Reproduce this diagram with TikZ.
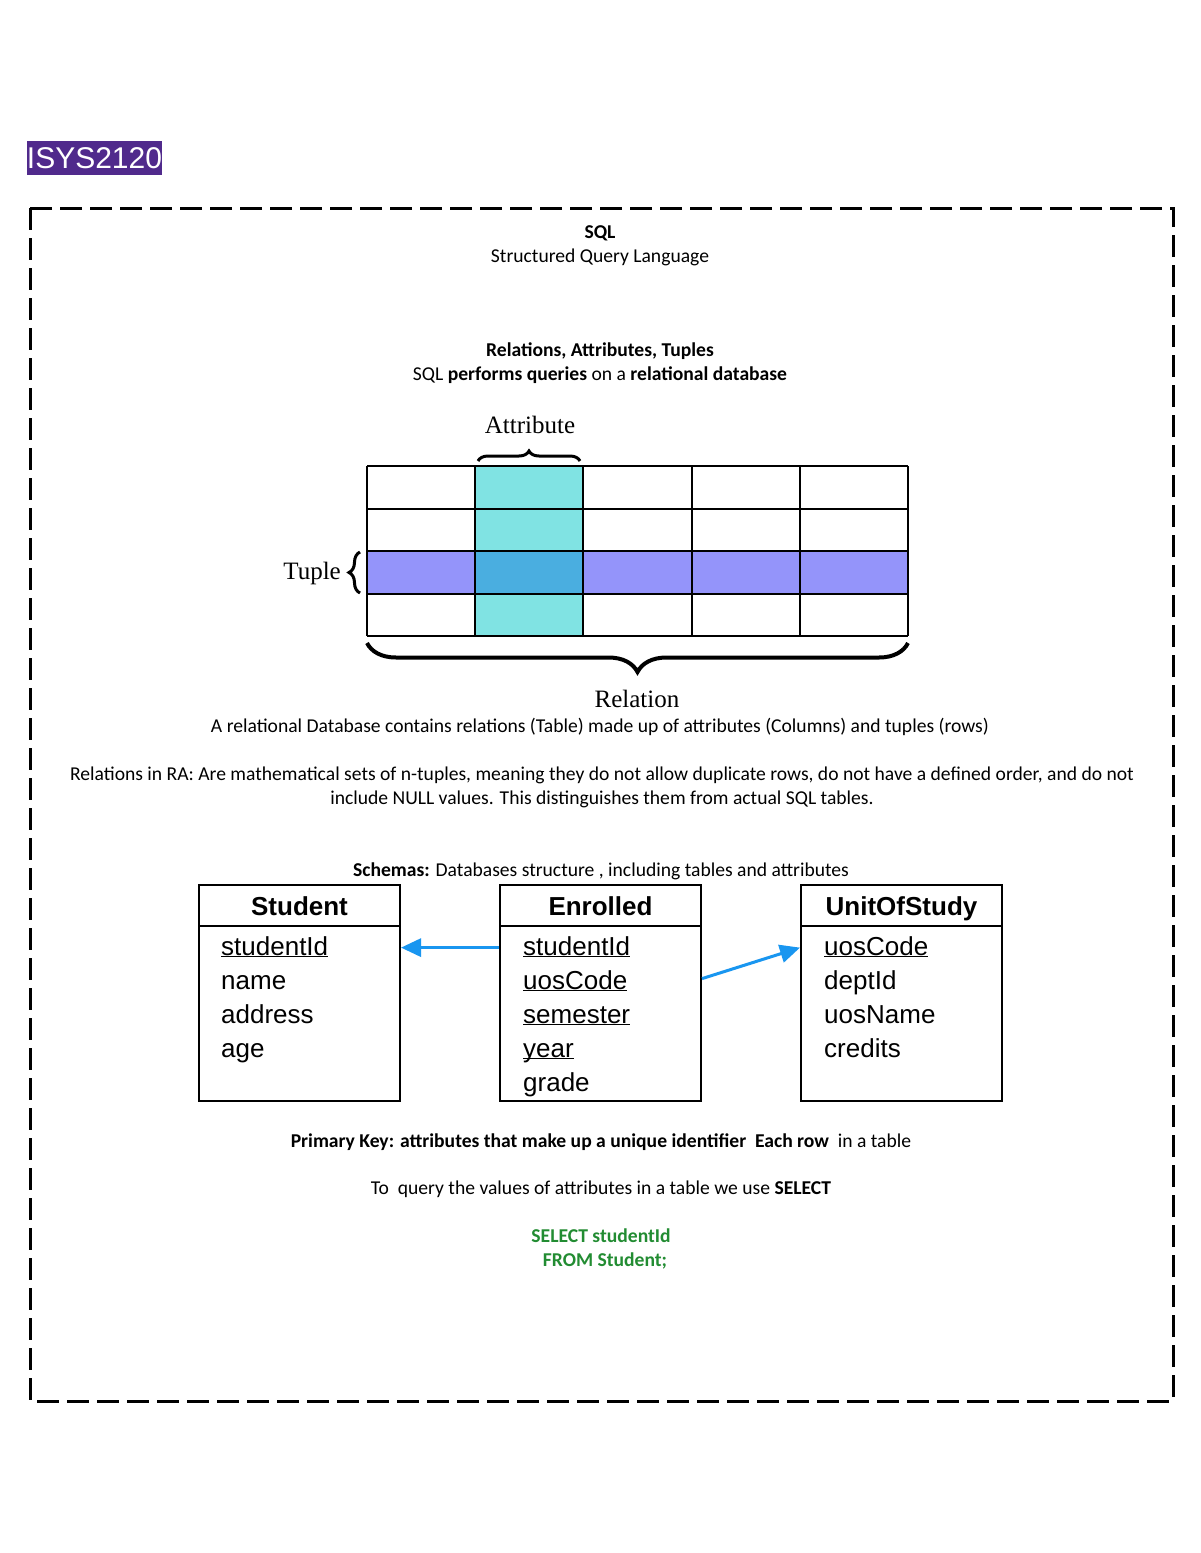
\documentclass[tikz,border=0pt]{standalone}
\usepackage{fontspec}
\setmainfont{Carlito}
\newfontfamily\arialfont{Liberation Sans}
\newfontfamily\timesfont{Liberation Serif}
\usetikzlibrary{arrows.meta,positioning,decorations.pathreplacing}
\definecolor{badgepurple}{RGB}{80,42,140}
\definecolor{attrcyan}{RGB}{128,227,227}
\definecolor{tuplelilac}{RGB}{148,148,250}
\definecolor{crossblue}{RGB}{74,174,224}
\definecolor{fkblue}{RGB}{25,150,240}
\definecolor{codegreen}{RGB}{34,140,50}
\newcommand{\keyattr}[1]{\underline{\smash{#1}}}

\begin{document}
\begin{tikzpicture}[x=1pt,y=-1pt]

\tikzset{txt/.style={anchor=base,inner sep=0pt,font=\fontsize{19.6}{24}\selectfont},
  serif/.style={inner sep=0pt,font=\timesfont\fontsize{25}{25}\selectfont},
  bracepen/.style={decorate,line width=2.5pt},
  gridline/.style={line width=2pt},
  tablebox/.style={draw,line width=2pt,minimum width=201pt,minimum height=216pt,inner sep=0pt},
  headbox/.style={draw,line width=2pt,minimum width=201pt,minimum height=41pt,inner sep=0pt,
    text height=19pt,text depth=0pt,font=\arialfont\bfseries\fontsize{26}{26}\selectfont},
  attr/.style={anchor=base west,inner sep=0pt,font=\arialfont\fontsize{26}{26}\selectfont},
  fkarrow/.style={draw=fkblue,line width=3pt,-{Triangle[length=20pt,width=18pt]}},
  badge/.style={fill=badgepurple,text=white,inner sep=0pt,minimum width=133pt,minimum height=34pt,
    font=\arialfont\fontsize{30}{30}\selectfont}}

\path[fill=white,use as bounding box] (0,0) rectangle (1200,1553);

\node[badge] (course) at (94.5,158) {ISYS2120};
\draw[line width=3pt,dash pattern=on 22pt off 8pt] (30,208) rectangle (1173,1401);

\node[txt] (sql) at (600,238) {\textbf{SQL}};
\node[txt] (sqlfull) at (600,262) {Structured Query Language};
\node[txt] (raHead) at (600,356) {\textbf{Relations, Attributes, Tuples}};
\node[txt] (raSub) at (600,380) {SQL \textbf{performs queries} on a \textbf{relational database}};

% relation grid
\fill[attrcyan] (475,466) rectangle (583,636);
\fill[tuplelilac] (367,551) rectangle (908,593);
\fill[crossblue] (475,551) rectangle (583,593);
\foreach \c in {0,...,5}
  \draw[gridline] (367+108.2*\c,466) -- (367+108.2*\c,636);
\foreach \r in {0,...,4}
  \draw[gridline] (367,466+42.5*\r) -- (908,466+42.5*\r);

\node[serif] (attrlbl) at (530,425) {Attribute};
\draw[bracepen,line width=3pt,decoration={brace,amplitude=10pt}] (478,461) -- (580,461);
\node[serif,anchor=east] (tuplelbl) at (341,573) {Tuple};
\draw[bracepen,line width=3pt,decoration={brace,amplitude=11pt}] (360,593) -- (360,552);
\draw[bracepen,line width=4pt,decoration={brace,amplitude=29pt}] (908,643) -- (367,643);
\node[serif] (rellbl) at (637,699) {Relation};

\node[txt] (dbNote) at (600,732) {A relational Database contains relations (Table) made up of attributes (Columns) and tuples (rows)};
\node[txt] (raNoteA) at (602,780) {Relations in RA: Are mathematical sets of n-tuples, meaning they do not allow duplicate rows, do not have a defined order, and do not};
\node[txt] (raNoteB) at (602,804) {include NULL values. This distinguishes them from actual SQL tables.};

\node[txt] (schemas) at (601,876) {\textbf{Schemas:} Databases structure , including tables and attributes};

% schema tables
\node[tablebox] (stu) at (299.5,993) {};
\node[headbox,anchor=north] (stuH) at (stu.north) {Student};
\foreach \t [count=\i] in {\keyattr{studentId},name,address,age}
  \node[attr] (stu\i) at (221,921+34*\i) {\t};

\node[tablebox] (enr) at (600.5,993) {};
\node[headbox,anchor=north] (enrH) at (enr.north) {Enrolled};
\foreach \t [count=\i] in {\keyattr{studentId},\keyattr{uosCode},\keyattr{semester},\keyattr{year},grade}
  \node[attr] (enr\i) at (523,921+34*\i) {\t};

\node[tablebox] (uos) at (901.5,993) {};
\node[headbox,anchor=north] (uosH) at (uos.north) {UnitOfStudy};
\foreach \t [count=\i] in {\keyattr{uosCode},deptId,uosName,credits}
  \node[attr] (uos\i) at (824,921+34*\i) {\t};

\coordinate (fkStu) at ([yshift=5pt]enr1.mid);
\coordinate (fkUosA) at ([yshift=8pt]enr2.mid);
\coordinate (fkUosB) at ([yshift=5pt]uos1.mid);
\draw[fkarrow] (enr.west |- fkStu) -- (stu.east |- fkStu);
\draw[fkarrow] (enr.east |- fkUosA) -- (uos.west |- fkUosB);

\node[txt] (pkNote) at (601,1147) {\textbf{Primary Key: attributes that make up a unique identifier\ \ Each row}\ \ in a table};
\node[txt] (selNote) at (601,1194) {To\ \ query the values of attributes in a table we use \textbf{SELECT}};
\node[txt,text=codegreen] (code1) at (601,1242) {\textbf{SELECT studentId}};
\node[txt,text=codegreen] (code2) at (605,1266) {\textbf{FROM Student;}};

\end{tikzpicture}
\end{document}
